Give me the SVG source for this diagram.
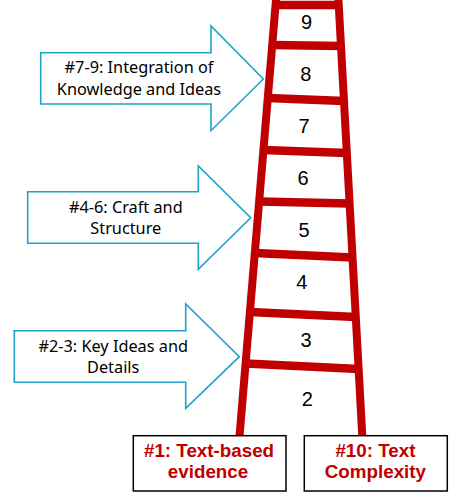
<svg xmlns="http://www.w3.org/2000/svg" width="457" height="502" viewBox="0 0 457 502">
<style>
.rail{stroke:#c00000;stroke-width:8;fill:none}
.rung{stroke:#c00000;stroke-width:8.5;fill:none}
.num{font-family:"Liberation Sans",Arial,sans-serif;font-size:20px;fill:#000;text-anchor:middle}
.arrow{fill:#fff;stroke:#1ea4c8;stroke-width:1.6}
.atxt{font-family:"Noto Sans","Open Sans",sans-serif;font-size:16.3px;fill:#000;text-anchor:middle}
.box{fill:#fff;stroke:#000;stroke-width:1.5}
.btxt{font-family:"Liberation Sans",Arial,sans-serif;font-size:18.8px;font-weight:bold;fill:#c00000;text-anchor:middle}
</style>
<rect width="457" height="502" fill="#fff"/>
<g id="connectors">
<line class="rail" x1="276.4" y1="-5" x2="239.2" y2="440"/>
<line class="rail" x1="338.2" y1="-5" x2="362.5" y2="440"/>
<line class="rung" x1="276" y1="5" x2="338.8" y2="5"/>
<line class="rung" x1="272.2" y1="45" x2="341" y2="46"/>
<line class="rung" x1="267.8" y1="98" x2="344" y2="101"/>
<line class="rung" x1="263.5" y1="150" x2="346.8" y2="153"/>
<line class="rung" x1="259.2" y1="201.5" x2="349.6" y2="203.5"/>
<line class="rung" x1="254.9" y1="253" x2="352.5" y2="257.5"/>
<line class="rung" x1="249.9" y1="312" x2="355.8" y2="317"/>
<line class="rung" x1="245.6" y1="363.5" x2="358.6" y2="369"/>
</g>
<g id="rungs-labels">
<text class="num" x="306.5" y="29">9</text>
<text class="num" x="305.7" y="81">8</text>
<text class="num" x="304" y="133">7</text>
<text class="num" x="303" y="185">6</text>
<text class="num" x="304" y="237">5</text>
<text class="num" x="301.7" y="289">4</text>
<text class="num" x="306" y="347">3</text>
<text class="num" x="307.3" y="406">2</text>
</g>
<g id="arrow-7-9">
<polygon class="arrow" points="40.7,52.7 211,52.7 211,26 263.3,79 211,130.7 211,104 40.7,104"/>
<text class="atxt" x="139" y="73">#7-9: Integration of</text>
<text class="atxt" x="139" y="95">Knowledge and Ideas</text>
</g>
<g id="arrow-4-6">
<polygon class="arrow" points="27.7,191.7 198.3,191.7 198.3,166 250.7,217.7 198.3,269.3 198.3,243.3 27.7,243.3"/>
<text class="atxt" x="125.8" y="213">#4-6: Craft and</text>
<text class="atxt" x="125.8" y="234">Structure</text>
</g>
<g id="arrow-2-3">
<polygon class="arrow" points="14.3,330.7 185.7,330.7 185.7,304 239.3,356.7 185.7,408.3 185.7,382.3 14.3,382.3"/>
<text class="atxt" x="113.2" y="351.7">#2-3: Key Ideas and</text>
<text class="atxt" x="113.2" y="372.7">Details</text>
</g>
<g id="box-1">
<rect class="box" x="133.3" y="435.7" width="152.7" height="55.3"/>
<text class="btxt" x="209" y="456.7">#1: Text-based</text>
<text class="btxt" x="208" y="478.3">evidence</text>
</g>
<g id="box-10">
<rect class="box" x="304.3" y="435.7" width="143" height="55.3"/>
<text class="btxt" x="375.4" y="456.7">#10: Text</text>
<text class="btxt" x="375.4" y="478.3">Complexity</text>
</g>
</svg>
